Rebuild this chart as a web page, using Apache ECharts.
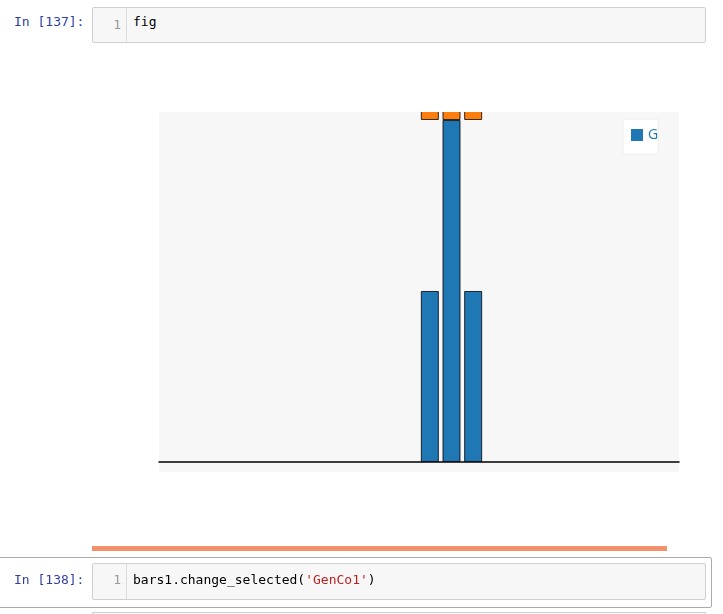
<!DOCTYPE html>
<html>
<head>
    <meta charset="UTF-8">
    <title>fig</title>
    <script src="https://cdn.jsdelivr.net/npm/echarts@6/dist/echarts.min.js"></script>
    <style>
        body { margin: 0; width: 723px; height: 614px; overflow: hidden; background: #fff; position: relative; }
        .mono { font-family: "DejaVu Sans Mono", monospace; font-size: 13px; }
        .prompt { position: absolute; left: 14px; color: #303f9f; }
        .input { position: absolute; left: 92px; width: 612px; background: #f7f7f7; border: 1px solid #cfcfcf; border-radius: 2px; }
        .gutter { position: absolute; left: 0; top: 0; bottom: 0; width: 34px; border-right: 1px solid #ddd; color: #999; text-align: right; box-sizing: border-box; padding-right: 5px; }
        .code { position: absolute; left: 40px; color: #000; }
        .str { color: #ba2121; }
        #chart { position: absolute; left: 0; top: 0; width: 723px; height: 614px; }
    </style>
</head>
<body>
<div class="prompt mono" style="top: 14px">In [137]:</div>
<div class="input mono" style="top: 7px; height: 34px">
    <div class="gutter" style="line-height: 26px; padding-top: 4px">1</div>
    <div class="code" style="top: 6px">fig</div>
</div>

<div id="chart"></div>

<div style="position: absolute; left: 92px; top: 546px; width: 575px; height: 5px; background: #f4916b"></div>

<div style="position: absolute; left: -3px; top: 557px; width: 713px; height: 49px; border: 1px solid #ababab; border-radius: 2px"></div>
<div class="prompt mono" style="top: 572px">In [138]:</div>
<div class="input mono" style="top: 563px; height: 35px">
    <div class="gutter" style="line-height: 26px; padding-top: 3px">1</div>
    <div class="code" style="top: 8px">bars1.change_selected(<span class="str">'GenCo1'</span>)</div>
</div>
<div style="position: absolute; left: 92px; top: 612px; width: 612px; height: 10px; border: 1px solid #cfcfcf; background: #f7f7f7"></div>

<script type="text/javascript">
    // the x scale has 24 slots, bars sit in slots 12..14
    var slotCount = 24;
    var barSlots = [12, 13, 14];
    var genCo1 = [2, 4, 2];      // blue
    var gap = [2, 0, 2];         // empty space under the orange bars
    var genCo2 = [1, 1, 1];      // orange, runs off the top

    var categories = [];
    for (var i = 0; i < slotCount; i++) categories.push(String(i));

    function fill(vals) {
        var out = categories.map(function () { return '-'; });
        barSlots.forEach(function (s, i) { out[s] = vals[i]; });
        return out;
    }

    var myChart = echarts.init(document.getElementById('chart'));
    var option = {
        animation: false,
        graphic: [
            {
                type: 'rect',
                z: -10,
                shape: {x: 159, y: 112, width: 520, height: 360},
                style: {fill: '#f7f7f7'}
            },
            {
                // white strip above the plot hides the clipped bar tops
                type: 'rect',
                z: 100,
                shape: {x: 150, y: 100, width: 540, height: 12},
                style: {fill: '#fff'}
            }
        ],
        legend: {
            data: ['G'],
            left: 623,
            top: 119,
            backgroundColor: '#fff',
            borderColor: '#eeeeee',
            borderWidth: 1,
            padding: [9, 0, 12, 8],
            itemWidth: 12,
            itemHeight: 12,
            itemGap: 3,
            icon: 'rect',
            itemStyle: {borderWidth: 0},
            textStyle: {color: '#1f77b4', fontSize: 14, fontFamily: 'Open Sans'}
        },
        grid: {left: 159, top: 108, width: 520, height: 364},
        xAxis: {
            type: 'category',
            data: categories,
            axisLine: {show: true, onZero: true, lineStyle: {color: '#000', width: 1.5}},
            axisTick: {show: false},
            axisLabel: {show: false},
            splitLine: {show: false}
        },
        yAxis: {
            type: 'value',
            min: -0.117,
            max: 4.140,
            axisLine: {show: false},
            axisTick: {show: false},
            axisLabel: {show: false},
            splitLine: {show: false}
        },
        series: [
            {
                name: 'G',
                type: 'bar',
                stack: 'total',
                barWidth: 18,
                clip: true,
                itemStyle: {color: '#1f77b4', borderColor: 'rgba(0,0,0,0.8)', borderWidth: 1},
                data: fill(genCo1)
            },
            {
                name: 'gap',
                type: 'bar',
                stack: 'total',
                barWidth: 18,
                clip: true,
                itemStyle: {color: 'rgba(0,0,0,0)', borderWidth: 0},
                data: fill(gap)
            },
            {
                name: 'GenCo2',
                type: 'bar',
                stack: 'total',
                barWidth: 18,
                clip: true,
                itemStyle: {color: '#ff7f0e', borderColor: 'rgba(0,0,0,0.8)', borderWidth: 1},
                data: fill(genCo2)
            }
        ]
    };
    option && myChart.setOption(option);
</script>
</body>
</html>
